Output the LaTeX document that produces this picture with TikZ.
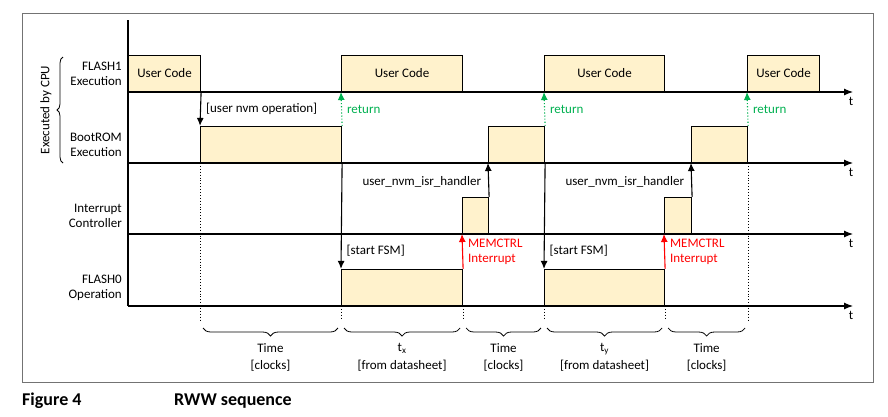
\documentclass[tikz,border=0pt]{standalone}
\usepackage{fontspec}
\setmainfont{Carlito}
\usetikzlibrary{arrows.meta,positioning,decorations.pathreplacing}

\definecolor{taskfill}{HTML}{FFF2CC}
\definecolor{retgreen}{HTML}{00B050}
\definecolor{irqred}{HTML}{FF0000}

\begin{document}
\begin{tikzpicture}[
        x=1pt,
        y=-1pt,
        font=\fontsize{13}{15}\selectfont,
        axis/.style={-{Latex[length=9pt,width=7pt]}, line width=1.1pt},
        task/.style={draw, line width=1.1pt, fill=taskfill, inner sep=0pt, anchor=south west, minimum height=36pt},
        call/.style={-{Latex[length=8pt,width=7pt]}, line width=1.1pt},
        ret/.style={-{Latex[length=8pt,width=7pt]}, line width=1.1pt, dotted, retgreen},
        irq/.style={-{Latex[length=8pt,width=7pt]}, line width=1.1pt, irqred},
        guide/.style={line width=0.9pt, dotted},
        span/.style={decorate, decoration={brace, amplitude=8pt, mirror}, line width=0.8pt},
        lane/.style={align=right, anchor=east, inner sep=0pt}
    ]
        \useasboundingbox (0,0) rectangle (888,416);
        \draw[black!55, line width=0.9pt] (22,13) rectangle (873,382);

        % task boxes
        \foreach \name/\xa/\xb/\y/\txt in {uc1/128/200/92/User Code,uc2/341/462/92/User Code,uc3/544/664/92/User Code,uc4/747/819/92/User Code,
                br1/200/341/163/,br2/488/544/163/,br3/691/747/163/,
                ic1/462/488/234/,ic2/664/691/234/,
                fo1/341/462/306/,fo2/544/664/306/} {
            \node[task, minimum width={(\xb-\xa)*1pt}] (\name) at (\xa,\y) {\txt};
        }

        % time axes
        \coordinate (top) at (128,20);
        \foreach \lane/\y/\txt in {fla/92/{FLASH1\\Execution},boot/163/{BootROM\\Execution},ctrl/234/{Interrupt\\Controller},flb/306/{FLASH0\\Operation}} {
            \coordinate (\lane-0) at (128,\y);
            \coordinate (\lane-1) at (853,\y);
            \draw[axis] (\lane-0) -- (\lane-1);
            \node[inner sep=0pt] (\lane-t) at (851,\y+9) {t};
            \node[lane] (\lane-lbl) at (122,\y-18) {\txt};
        }
        \draw[line width=1.1pt] (top) -- (flb-0);

        % left brace
        \coordinate (cpu-a) at (63,163);
        \coordinate (cpu-b) at (63,57);
        \draw[decorate, decoration={brace, amplitude=6pt}, line width=0.8pt] (cpu-a) -- (cpu-b);
        \node[rotate=90] (cpu) at (46,110) {Executed by CPU};

        % first request
        \draw[call] (uc1.south east) -- (br1.north west)
            node[midway, right=5pt, inner sep=0pt] (nvm) {[user nvm operation]};

        % FSM, interrupt, handler, return
        \foreach \br/\fo/\ic/\nb/\uc/\id in {br1/fo1/ic1/br2/uc2/a,br2/fo2/ic2/br3/uc3/b} {
            \draw[call] (\br.south east) -- (\fo.north west)
                node[pos=0.83, right=5pt, inner sep=0pt] (fsm-\id) {[start FSM]};
            \draw[ret] (\br.north east) -- (\uc.south west)
                node[midway, right=5pt, inner sep=0pt] (ret-\id) {return};
            \draw[irq] (\fo.north east) -- (\ic.south west)
                node[midway, right=5pt, inner sep=0pt, align=left, text=irqred] (mem-\id) {MEMCTRL\\Interrupt};
            \draw[call] (\ic.north east) -- (\nb.south west)
                node[pos=0.45, left=7pt, inner sep=0pt] (isr-\id) {user\_nvm\_isr\_handler};
        }
        \draw[ret] (br3.north east) -- (uc4.south west)
            node[midway, right=5pt, inner sep=0pt] (ret-c) {return};

        % guides down to the braces
        \foreach \from/\id in {br1.south west/g1,fo1.south west/g2,fo1.south east/g3,fo2.south west/g4,fo2.south east/g5,br3.south east/g6} {
            \coordinate (\id) at (\from |- 0,320);
            \draw[guide] (\from) -- (\id);
        }

        % time spans
        \foreach \a/\b/\txt/\id in {g1/g2/{Time\\{[clocks]}}/s1,g2/g3/{t\textsubscript{x}\\{[from datasheet]}}/s2,g3/g4/{Time\\{[clocks]}}/s3,
                g4/g5/{t\textsubscript{y}\\{[from datasheet]}}/s4,g5/g6/{Time\\{[clocks]}}/s5} {
            \coordinate (\id-a) at ([xshift=3pt, yshift=-8pt]\a);
            \coordinate (\id-b) at ([xshift=-3pt, yshift=-8pt]\b);
            \draw[span] (\id-a) -- node[below=15pt, align=center, inner sep=0pt, font=\fontsize{13}{17.5}\selectfont] (\id) {\txt} (\id-b);
        }

        % caption
        \node[anchor=west, inner sep=0pt, font=\fontsize{18}{20}\selectfont\bfseries] (fig) at (22,401) {Figure 4};
        \node[anchor=west, inner sep=0pt, font=\fontsize{18}{20}\selectfont\bfseries] (cap) at (174,401) {RWW sequence};
    \end{tikzpicture}
\end{document}
